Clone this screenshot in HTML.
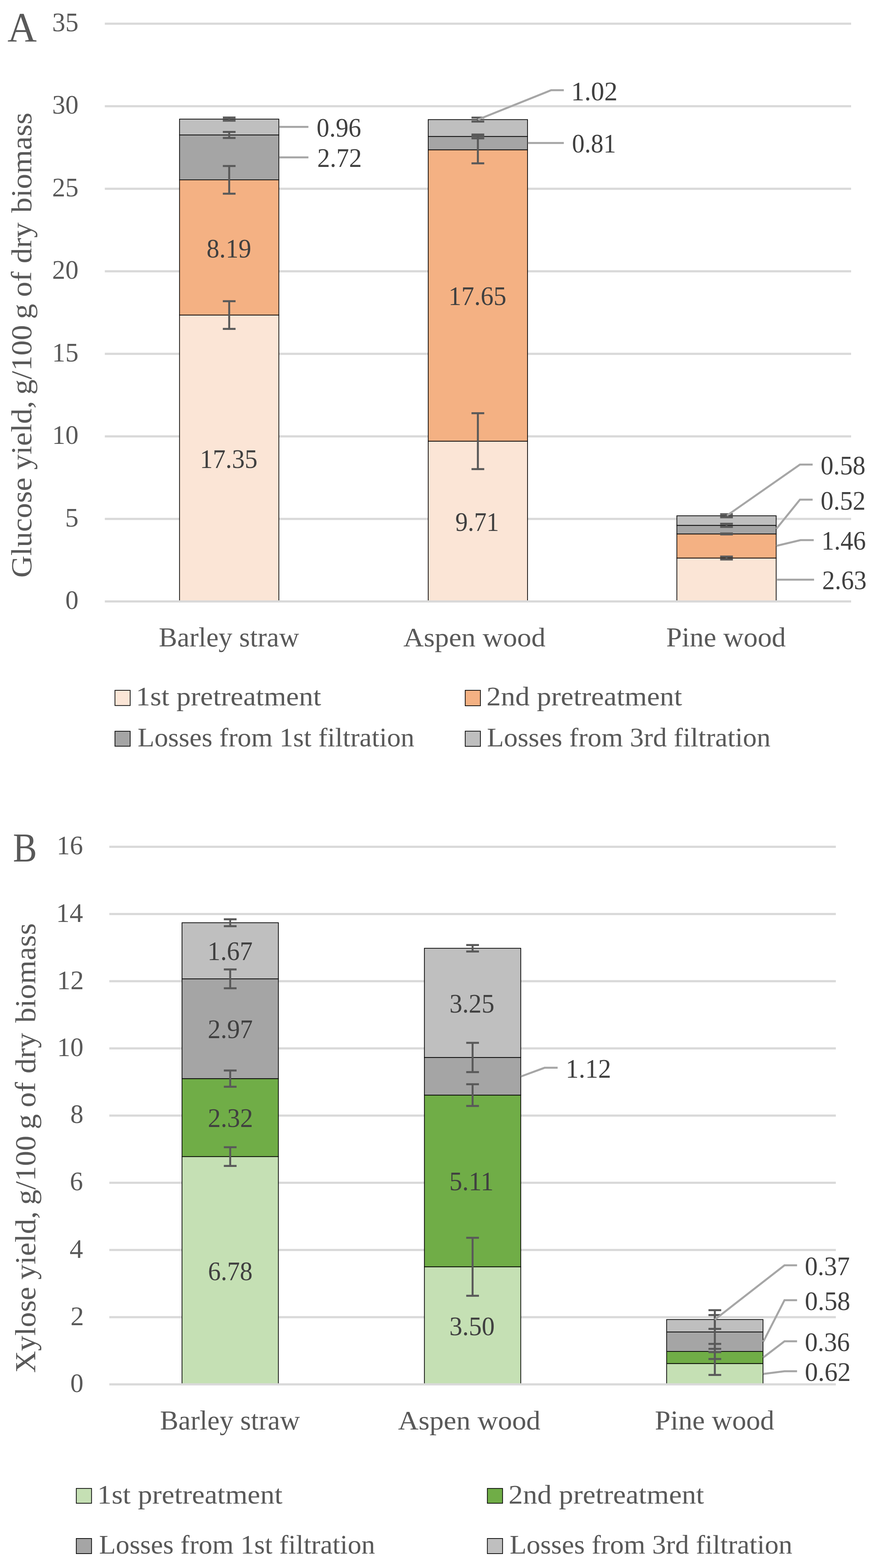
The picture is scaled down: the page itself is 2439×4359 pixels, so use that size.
<!DOCTYPE html>
<html><head><meta charset="utf-8"><title>Glucose and xylose yield</title>
<style>
html,body{margin:0;padding:0;background:#fff;}
svg{display:block;}
text{font-family:"Liberation Serif","DejaVu Serif",serif;}
</style></head><body>
<svg width="2439" height="4359" viewBox="0 0 2439 4359">
<rect x="0" y="0" width="2439" height="4359" fill="#fff"/>
<rect x="291.50" y="1439.55" width="2075.50" height="6.00" fill="#d9d9d9"/>
<rect x="291.50" y="1210.10" width="2075.50" height="6.00" fill="#d9d9d9"/>
<rect x="291.50" y="980.65" width="2075.50" height="6.00" fill="#d9d9d9"/>
<rect x="291.50" y="751.20" width="2075.50" height="6.00" fill="#d9d9d9"/>
<rect x="291.50" y="521.75" width="2075.50" height="6.00" fill="#d9d9d9"/>
<rect x="291.50" y="292.30" width="2075.50" height="6.00" fill="#d9d9d9"/>
<rect x="291.50" y="62.85" width="2075.50" height="6.00" fill="#d9d9d9"/>
<rect x="499.30" y="875.81" width="276.20" height="796.19" fill="#fbe5d6" stroke="#000" stroke-width="2.0"/>
<rect x="499.30" y="499.97" width="276.20" height="375.84" fill="#f4b183" stroke="#000" stroke-width="2.0"/>
<rect x="499.30" y="375.15" width="276.20" height="124.82" fill="#a5a5a5" stroke="#000" stroke-width="2.0"/>
<rect x="499.30" y="331.09" width="276.20" height="44.05" fill="#bfbfbf" stroke="#000" stroke-width="2.0"/>
<rect x="1190.90" y="1226.41" width="276.20" height="445.59" fill="#fbe5d6" stroke="#000" stroke-width="2.0"/>
<rect x="1190.90" y="416.45" width="276.20" height="809.96" fill="#f4b183" stroke="#000" stroke-width="2.0"/>
<rect x="1190.90" y="379.28" width="276.20" height="37.17" fill="#a5a5a5" stroke="#000" stroke-width="2.0"/>
<rect x="1190.90" y="332.47" width="276.20" height="46.81" fill="#bfbfbf" stroke="#000" stroke-width="2.0"/>
<rect x="1882.40" y="1551.31" width="276.20" height="120.69" fill="#fbe5d6" stroke="#000" stroke-width="2.0"/>
<rect x="1882.40" y="1484.31" width="276.20" height="67.00" fill="#f4b183" stroke="#000" stroke-width="2.0"/>
<rect x="1882.40" y="1460.45" width="276.20" height="23.86" fill="#a5a5a5" stroke="#000" stroke-width="2.0"/>
<rect x="1882.40" y="1433.83" width="276.20" height="26.62" fill="#bfbfbf" stroke="#000" stroke-width="2.0"/>
<rect x="291.50" y="1669.00" width="2075.50" height="6.00" fill="#d9d9d9"/>
<rect x="634.70" y="837.31" width="5.40" height="77.00" fill="#595959"/>
<rect x="619.70" y="834.56" width="35.40" height="5.50" fill="#595959"/>
<rect x="619.70" y="911.56" width="35.40" height="5.50" fill="#595959"/>
<rect x="634.70" y="461.47" width="5.40" height="77.00" fill="#595959"/>
<rect x="619.70" y="458.72" width="35.40" height="5.50" fill="#595959"/>
<rect x="619.70" y="535.72" width="35.40" height="5.50" fill="#595959"/>
<rect x="634.70" y="366.75" width="5.40" height="16.80" fill="#595959"/>
<rect x="619.70" y="364.00" width="35.40" height="5.50" fill="#595959"/>
<rect x="619.70" y="380.80" width="35.40" height="5.50" fill="#595959"/>
<rect x="634.70" y="326.69" width="5.40" height="8.80" fill="#595959"/>
<rect x="619.70" y="323.94" width="35.40" height="5.50" fill="#595959"/>
<rect x="619.70" y="332.74" width="35.40" height="5.50" fill="#595959"/>
<rect x="1326.30" y="1148.71" width="5.40" height="155.40" fill="#595959"/>
<rect x="1311.30" y="1145.96" width="35.40" height="5.50" fill="#595959"/>
<rect x="1311.30" y="1301.36" width="35.40" height="5.50" fill="#595959"/>
<rect x="1326.30" y="378.85" width="5.40" height="75.20" fill="#595959"/>
<rect x="1311.30" y="376.10" width="35.40" height="5.50" fill="#595959"/>
<rect x="1311.30" y="451.30" width="35.40" height="5.50" fill="#595959"/>
<rect x="1326.30" y="373.98" width="5.40" height="10.60" fill="#595959"/>
<rect x="1311.30" y="371.23" width="35.40" height="5.50" fill="#595959"/>
<rect x="1311.30" y="381.83" width="35.40" height="5.50" fill="#595959"/>
<rect x="1326.30" y="326.97" width="5.40" height="11.00" fill="#595959"/>
<rect x="1311.30" y="324.22" width="35.40" height="5.50" fill="#595959"/>
<rect x="1311.30" y="335.22" width="35.40" height="5.50" fill="#595959"/>
<rect x="2017.80" y="1547.21" width="5.40" height="8.20" fill="#595959"/>
<rect x="2002.80" y="1544.46" width="35.40" height="5.50" fill="#595959"/>
<rect x="2002.80" y="1552.66" width="35.40" height="5.50" fill="#595959"/>
<rect x="2017.80" y="1483.01" width="5.40" height="2.60" fill="#595959"/>
<rect x="2002.80" y="1480.26" width="35.40" height="5.50" fill="#595959"/>
<rect x="2002.80" y="1482.86" width="35.40" height="5.50" fill="#595959"/>
<rect x="2017.80" y="1456.05" width="5.40" height="8.80" fill="#595959"/>
<rect x="2002.80" y="1453.30" width="35.40" height="5.50" fill="#595959"/>
<rect x="2002.80" y="1462.10" width="35.40" height="5.50" fill="#595959"/>
<rect x="2017.80" y="1429.53" width="5.40" height="8.60" fill="#595959"/>
<rect x="2002.80" y="1426.78" width="35.40" height="5.50" fill="#595959"/>
<rect x="2002.80" y="1435.38" width="35.40" height="5.50" fill="#595959"/>
<polyline points="776.50,352.70 857.70,352.70" fill="none" stroke="#a6a6a6" stroke-width="5.5" stroke-linejoin="miter"/>
<polyline points="776.50,437.40 857.70,437.40" fill="none" stroke="#a6a6a6" stroke-width="5.5" stroke-linejoin="miter"/>
<polyline points="1329.00,332.50 1532.70,250.80 1568.00,250.80" fill="none" stroke="#a6a6a6" stroke-width="5.5" stroke-linejoin="miter"/>
<polyline points="1467.70,397.40 1568.00,397.40" fill="none" stroke="#a6a6a6" stroke-width="5.5" stroke-linejoin="miter"/>
<polyline points="2022.00,1433.00 2224.70,1291.50 2260.00,1291.50" fill="none" stroke="#a6a6a6" stroke-width="5.5" stroke-linejoin="miter"/>
<polyline points="2159.00,1470.30 2224.70,1389.00 2260.00,1389.00" fill="none" stroke="#a6a6a6" stroke-width="5.5" stroke-linejoin="miter"/>
<polyline points="2159.00,1517.50 2226.30,1501.60 2263.00,1501.60" fill="none" stroke="#a6a6a6" stroke-width="5.5" stroke-linejoin="miter"/>
<polyline points="2159.00,1611.40 2264.00,1611.40" fill="none" stroke="#a6a6a6" stroke-width="5.5" stroke-linejoin="miter"/>
<rect x="304.00" y="3658.70" width="2020.60" height="6.00" fill="#d9d9d9"/>
<rect x="304.00" y="3471.90" width="2020.60" height="6.00" fill="#d9d9d9"/>
<rect x="304.00" y="3285.10" width="2020.60" height="6.00" fill="#d9d9d9"/>
<rect x="304.00" y="3098.30" width="2020.60" height="6.00" fill="#d9d9d9"/>
<rect x="304.00" y="2911.50" width="2020.60" height="6.00" fill="#d9d9d9"/>
<rect x="304.00" y="2724.70" width="2020.60" height="6.00" fill="#d9d9d9"/>
<rect x="304.00" y="2537.90" width="2020.60" height="6.00" fill="#d9d9d9"/>
<rect x="304.00" y="2351.10" width="2020.60" height="6.00" fill="#d9d9d9"/>
<rect x="506.20" y="3215.25" width="268.00" height="633.25" fill="#c5e0b4" stroke="#000" stroke-width="2.0"/>
<rect x="506.20" y="2998.56" width="268.00" height="216.69" fill="#70ad47" stroke="#000" stroke-width="2.0"/>
<rect x="506.20" y="2721.16" width="268.00" height="277.40" fill="#a5a5a5" stroke="#000" stroke-width="2.0"/>
<rect x="506.20" y="2565.18" width="268.00" height="155.98" fill="#bfbfbf" stroke="#000" stroke-width="2.0"/>
<rect x="1180.30" y="3521.60" width="268.00" height="326.90" fill="#c5e0b4" stroke="#000" stroke-width="2.0"/>
<rect x="1180.30" y="3044.33" width="268.00" height="477.27" fill="#70ad47" stroke="#000" stroke-width="2.0"/>
<rect x="1180.30" y="2939.72" width="268.00" height="104.61" fill="#a5a5a5" stroke="#000" stroke-width="2.0"/>
<rect x="1180.30" y="2636.17" width="268.00" height="303.55" fill="#bfbfbf" stroke="#000" stroke-width="2.0"/>
<rect x="1854.00" y="3790.59" width="268.00" height="57.91" fill="#c5e0b4" stroke="#000" stroke-width="2.0"/>
<rect x="1854.00" y="3756.97" width="268.00" height="33.62" fill="#70ad47" stroke="#000" stroke-width="2.0"/>
<rect x="1854.00" y="3702.80" width="268.00" height="54.17" fill="#a5a5a5" stroke="#000" stroke-width="2.0"/>
<rect x="1854.00" y="3668.24" width="268.00" height="34.56" fill="#bfbfbf" stroke="#000" stroke-width="2.0"/>
<rect x="304.00" y="3845.50" width="2020.60" height="6.00" fill="#d9d9d9"/>
<rect x="637.50" y="3189.25" width="5.40" height="52.00" fill="#595959"/>
<rect x="622.50" y="3186.50" width="35.40" height="5.50" fill="#595959"/>
<rect x="622.50" y="3238.50" width="35.40" height="5.50" fill="#595959"/>
<rect x="637.50" y="2975.96" width="5.40" height="45.20" fill="#595959"/>
<rect x="622.50" y="2973.21" width="35.40" height="5.50" fill="#595959"/>
<rect x="622.50" y="3018.41" width="35.40" height="5.50" fill="#595959"/>
<rect x="637.50" y="2694.96" width="5.40" height="52.40" fill="#595959"/>
<rect x="622.50" y="2692.21" width="35.40" height="5.50" fill="#595959"/>
<rect x="622.50" y="2744.61" width="35.40" height="5.50" fill="#595959"/>
<rect x="637.50" y="2555.58" width="5.40" height="19.20" fill="#595959"/>
<rect x="622.50" y="2552.83" width="35.40" height="5.50" fill="#595959"/>
<rect x="622.50" y="2572.03" width="35.40" height="5.50" fill="#595959"/>
<rect x="1311.60" y="3441.00" width="5.40" height="161.20" fill="#595959"/>
<rect x="1296.60" y="3438.25" width="35.40" height="5.50" fill="#595959"/>
<rect x="1296.60" y="3599.45" width="35.40" height="5.50" fill="#595959"/>
<rect x="1311.60" y="3014.13" width="5.40" height="60.40" fill="#595959"/>
<rect x="1296.60" y="3011.38" width="35.40" height="5.50" fill="#595959"/>
<rect x="1296.60" y="3071.78" width="35.40" height="5.50" fill="#595959"/>
<rect x="1311.60" y="2899.02" width="5.40" height="81.40" fill="#595959"/>
<rect x="1296.60" y="2896.27" width="35.40" height="5.50" fill="#595959"/>
<rect x="1296.60" y="2977.67" width="35.40" height="5.50" fill="#595959"/>
<rect x="1311.60" y="2627.17" width="5.40" height="18.00" fill="#595959"/>
<rect x="1296.60" y="2624.42" width="35.40" height="5.50" fill="#595959"/>
<rect x="1296.60" y="2642.42" width="35.40" height="5.50" fill="#595959"/>
<rect x="1985.30" y="3758.89" width="5.40" height="63.40" fill="#595959"/>
<rect x="1970.30" y="3756.14" width="35.40" height="5.50" fill="#595959"/>
<rect x="1970.30" y="3819.54" width="35.40" height="5.50" fill="#595959"/>
<rect x="1985.30" y="3735.97" width="5.40" height="42.00" fill="#595959"/>
<rect x="1970.30" y="3733.22" width="35.40" height="5.50" fill="#595959"/>
<rect x="1970.30" y="3775.22" width="35.40" height="5.50" fill="#595959"/>
<rect x="1985.30" y="3655.80" width="5.40" height="94.00" fill="#595959"/>
<rect x="1970.30" y="3653.05" width="35.40" height="5.50" fill="#595959"/>
<rect x="1970.30" y="3747.05" width="35.40" height="5.50" fill="#595959"/>
<rect x="1985.30" y="3642.24" width="5.40" height="52.00" fill="#595959"/>
<rect x="1970.30" y="3639.49" width="35.40" height="5.50" fill="#595959"/>
<rect x="1970.30" y="3691.49" width="35.40" height="5.50" fill="#595959"/>
<polyline points="1449.00,2992.50 1514.60,2968.30 1550.80,2968.30" fill="none" stroke="#a6a6a6" stroke-width="5.5" stroke-linejoin="miter"/>
<polyline points="1988.00,3668.30 2181.70,3517.50 2216.70,3517.50" fill="none" stroke="#a6a6a6" stroke-width="5.5" stroke-linejoin="miter"/>
<polyline points="2122.70,3730.00 2181.70,3614.60 2216.70,3614.60" fill="none" stroke="#a6a6a6" stroke-width="5.5" stroke-linejoin="miter"/>
<polyline points="2122.70,3773.70 2181.70,3728.70 2216.70,3728.70" fill="none" stroke="#a6a6a6" stroke-width="5.5" stroke-linejoin="miter"/>
<polyline points="2122.70,3819.60 2181.70,3812.00 2216.70,3812.00" fill="none" stroke="#a6a6a6" stroke-width="5.5" stroke-linejoin="miter"/>
<rect x="319.70" y="1919.00" width="42.30" height="42.40" fill="#fbe5d6" stroke="#000" stroke-width="2"/>
<rect x="319.70" y="2032.80" width="42.30" height="41.70" fill="#a5a5a5" stroke="#000" stroke-width="2"/>
<rect x="1293.80" y="1919.00" width="42.20" height="43.00" fill="#f4b183" stroke="#000" stroke-width="2"/>
<rect x="1293.80" y="2032.60" width="42.20" height="42.20" fill="#bfbfbf" stroke="#000" stroke-width="2"/>
<rect x="212.20" y="4137.80" width="42.40" height="41.20" fill="#c5e0b4" stroke="#000" stroke-width="2"/>
<rect x="212.20" y="4277.00" width="42.40" height="42.00" fill="#a5a5a5" stroke="#000" stroke-width="2"/>
<rect x="1355.40" y="4137.80" width="42.30" height="41.20" fill="#70ad47" stroke="#000" stroke-width="2"/>
<rect x="1355.40" y="4277.00" width="42.30" height="42.00" fill="#bfbfbf" stroke="#000" stroke-width="2"/>
<text transform="translate(20.80,116.00) scale(0.9757,1)" font-size="115.65" fill="#595959">A</text>
<text transform="translate(35.94,2394.82) scale(0.8803,1)" font-size="113.71" fill="#595959">B</text>
<text transform="translate(181.70,1693.01) scale(1.0000,1)" font-size="73.16" fill="#595959">0</text>
<text transform="translate(180.91,1463.53) scale(1.0000,1)" font-size="74.87" fill="#595959">5</text>
<text transform="translate(145.12,1234.11) scale(1.0000,1)" font-size="73.16" fill="#595959">10</text>
<text transform="translate(145.12,1004.66) scale(1.0000,1)" font-size="73.16" fill="#595959">15</text>
<text transform="translate(145.12,775.21) scale(1.0000,1)" font-size="73.16" fill="#595959">20</text>
<text transform="translate(145.12,545.76) scale(1.0000,1)" font-size="73.16" fill="#595959">25</text>
<text transform="translate(145.12,316.31) scale(1.0000,1)" font-size="73.16" fill="#595959">30</text>
<text transform="translate(145.12,86.86) scale(1.0000,1)" font-size="73.16" fill="#595959">35</text>
<text transform="translate(195.50,3869.51) scale(1.0000,1)" font-size="73.16" fill="#595959">0</text>
<text transform="translate(195.88,3683.85) scale(1.0000,1)" font-size="74.87" fill="#595959">2</text>
<text transform="translate(193.54,3497.05) scale(1.0000,1)" font-size="74.87" fill="#595959">4</text>
<text transform="translate(194.36,3309.11) scale(1.0000,1)" font-size="73.16" fill="#595959">6</text>
<text transform="translate(195.50,3122.31) scale(1.0000,1)" font-size="73.16" fill="#595959">8</text>
<text transform="translate(158.92,2935.51) scale(1.0000,1)" font-size="73.16" fill="#595959">10</text>
<text transform="translate(158.44,2749.85) scale(1.0000,1)" font-size="74.87" fill="#595959">12</text>
<text transform="translate(156.10,2563.05) scale(1.0000,1)" font-size="74.87" fill="#595959">14</text>
<text transform="translate(157.78,2375.11) scale(1.0000,1)" font-size="73.16" fill="#595959">16</text>
<g><text transform="translate(87.40,1606.04) rotate(-90) scale(1.0454,1)" font-size="81.35" fill="#595959">Glucose</text><text transform="translate(87.40,1305.65) rotate(-90) scale(1.0454,1)" font-size="81.35" fill="#595959">yield,</text><text transform="translate(87.40,1097.26) rotate(-90) scale(1.0454,1)" font-size="81.35" fill="#595959">g/100</text><text transform="translate(87.40,887.08) rotate(-90) scale(1.0454,1)" font-size="81.35" fill="#595959">g</text><text transform="translate(87.40,825.51) rotate(-90) scale(1.0454,1)" font-size="81.35" fill="#595959">of</text><text transform="translate(87.40,731.91) rotate(-90) scale(1.0454,1)" font-size="81.35" fill="#595959">dry</text><text transform="translate(87.40,591.52) rotate(-90) scale(1.0454,1)" font-size="81.35" fill="#595959">biomass</text></g>
<g><text transform="translate(97.90,3816.57) rotate(-90) scale(1.0552,1)" font-size="80.07" fill="#595959">Xylose</text><text transform="translate(97.90,3557.29) rotate(-90) scale(1.0552,1)" font-size="80.07" fill="#595959">yield,</text><text transform="translate(97.90,3349.43) rotate(-90) scale(1.0552,1)" font-size="80.07" fill="#595959">g/100</text><text transform="translate(97.90,3139.53) rotate(-90) scale(1.0552,1)" font-size="80.07" fill="#595959">g</text><text transform="translate(97.90,3078.57) rotate(-90) scale(1.0552,1)" font-size="80.07" fill="#595959">of</text><text transform="translate(97.90,2984.18) rotate(-90) scale(1.0552,1)" font-size="80.07" fill="#595959">dry</text><text transform="translate(97.90,2843.37) rotate(-90) scale(1.0552,1)" font-size="80.07" fill="#595959">biomass</text></g>
<text transform="translate(556.04,1300.81) scale(0.9731,1)" font-size="73.16" fill="#404040">17.35</text>
<text transform="translate(574.38,715.71) scale(0.9711,1)" font-size="73.16" fill="#404040">8.19</text>
<text transform="translate(1266.33,1475.86) scale(0.9491,1)" font-size="73.16" fill="#404040">9.71</text>
<text transform="translate(1247.31,847.76) scale(0.9776,1)" font-size="73.16" fill="#404040">17.65</text>
<text transform="translate(880.59,380.36) scale(0.9670,1)" font-size="73.16" fill="#404040">0.96</text>
<text transform="translate(882.19,464.41) scale(0.9688,1)" font-size="73.16" fill="#404040">2.72</text>
<text transform="translate(1588.23,278.51) scale(1.0093,1)" font-size="73.16" fill="#404040">1.02</text>
<text transform="translate(1590.81,424.41) scale(0.9565,1)" font-size="73.16" fill="#404040">0.81</text>
<text transform="translate(2282.17,1319.31) scale(0.9744,1)" font-size="73.16" fill="#404040">0.58</text>
<text transform="translate(2282.16,1417.21) scale(0.9778,1)" font-size="73.16" fill="#404040">0.52</text>
<text transform="translate(2284.48,1527.71) scale(0.9655,1)" font-size="73.16" fill="#404040">1.46</text>
<text transform="translate(2286.60,1638.01) scale(0.9630,1)" font-size="73.16" fill="#404040">2.63</text>
<text transform="translate(578.59,3559.01) scale(0.9671,1)" font-size="73.16" fill="#404040">6.78</text>
<text transform="translate(577.96,3133.36) scale(0.9818,1)" font-size="73.16" fill="#404040">2.32</text>
<text transform="translate(577.76,2886.16) scale(0.9791,1)" font-size="73.16" fill="#404040">2.97</text>
<text transform="translate(576.99,2669.11) scale(0.9820,1)" font-size="73.16" fill="#404040">1.67</text>
<text transform="translate(1249.72,3712.01) scale(0.9843,1)" font-size="73.16" fill="#404040">3.50</text>
<text transform="translate(1249.52,3309.11) scale(0.9843,1)" font-size="73.16" fill="#404040">5.11</text>
<text transform="translate(1249.95,2814.66) scale(0.9769,1)" font-size="73.16" fill="#404040">3.25</text>
<text transform="translate(1573.36,2995.71) scale(0.9866,1)" font-size="73.16" fill="#404040">1.12</text>
<text transform="translate(2238.26,3544.81) scale(0.9791,1)" font-size="73.16" fill="#404040">0.37</text>
<text transform="translate(2238.24,3641.61) scale(0.9881,1)" font-size="73.16" fill="#404040">0.58</text>
<text transform="translate(2238.26,3755.51) scale(0.9791,1)" font-size="73.16" fill="#404040">0.36</text>
<text transform="translate(2238.22,3839.01) scale(0.9974,1)" font-size="73.16" fill="#404040">0.62</text>
<text transform="translate(441.50,1796.75) scale(1.0077,1)" font-size="76.19" fill="#595959">Barley straw</text>
<text transform="translate(1121.70,1796.75) scale(1.0566,1)" font-size="74.42" fill="#595959">Aspen wood</text>
<text transform="translate(1852.78,1796.75) scale(1.0275,1)" font-size="76.19" fill="#595959">Pine wood</text>
<text transform="translate(444.90,3973.50) scale(1.0051,1)" font-size="76.19" fill="#595959">Barley straw</text>
<text transform="translate(1107.10,3973.50) scale(1.0582,1)" font-size="74.42" fill="#595959">Aspen wood</text>
<text transform="translate(1821.28,3973.50) scale(1.0260,1)" font-size="76.19" fill="#595959">Pine wood</text>
<text transform="translate(377.98,1961.30) scale(1.0865,1)" font-size="73.30" fill="#595959">1st pretreatment</text>
<text transform="translate(382.81,2075.00) scale(1.0417,1)" font-size="73.30" fill="#595959">Losses from 1st filtration</text>
<text transform="translate(1353.00,1961.30) scale(1.0912,1)" font-size="73.30" fill="#595959">2nd pretreatment</text>
<text transform="translate(1354.30,2075.00) scale(1.0499,1)" font-size="73.30" fill="#595959">Losses from 3rd filtration</text>
<text transform="translate(270.58,4180.00) scale(1.0861,1)" font-size="73.30" fill="#595959">1st pretreatment</text>
<text transform="translate(275.61,4318.60) scale(1.0387,1)" font-size="73.30" fill="#595959">Losses from 1st filtration</text>
<text transform="translate(1414.30,4180.00) scale(1.0906,1)" font-size="73.30" fill="#595959">2nd pretreatment</text>
<text transform="translate(1417.50,4318.60) scale(1.0467,1)" font-size="73.30" fill="#595959">Losses from 3rd filtration</text>
</svg>
</body></html>
